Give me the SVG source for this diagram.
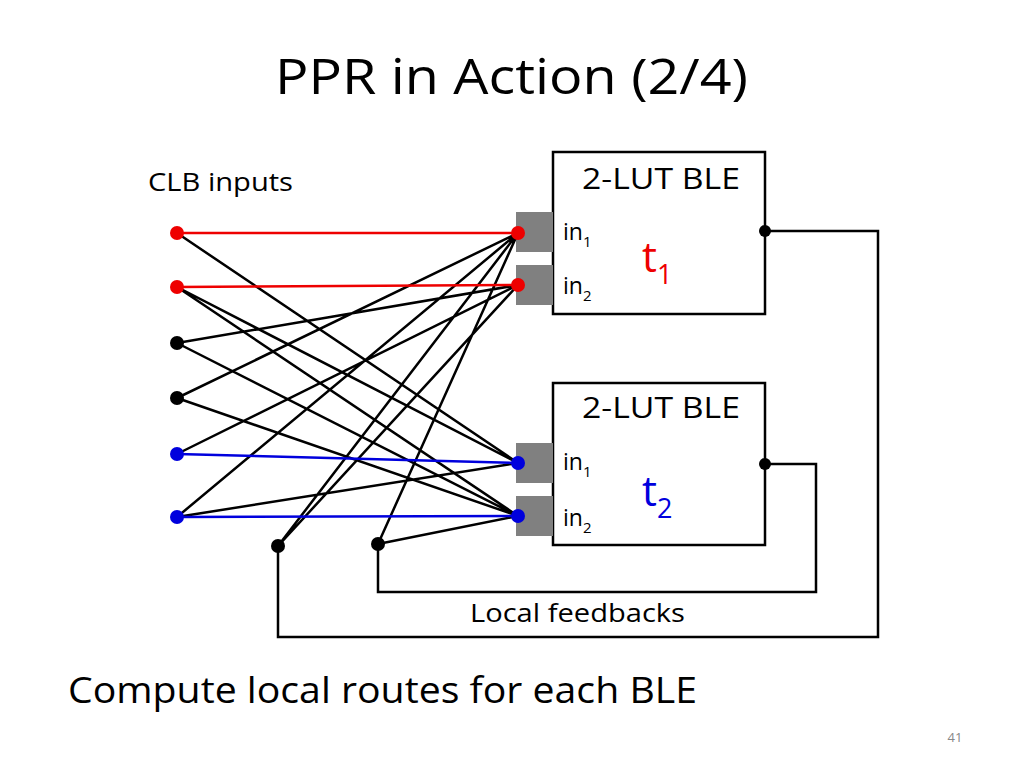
<svg xmlns="http://www.w3.org/2000/svg" width="1024" height="768" viewBox="0 0 1024 768">
<style>
text{font-family:"Open Sans","Liberation Sans",sans-serif;fill:#000}
.k{stroke:#000;stroke-width:2.5;fill:none}
.r{stroke:#e00;stroke-width:2.5}
.b{stroke:#00d;stroke-width:2.5}
.box{fill:#fff;stroke:#000;stroke-width:2.5}
.pin{fill:#808080}
</style>
<rect width="1024" height="768" fill="#fff"/>
<text x="275" y="94" font-size="50" textLength="473" lengthAdjust="spacingAndGlyphs">PPR in Action (2/4)</text>
<text x="148" y="191" font-size="25" textLength="145" lengthAdjust="spacingAndGlyphs">CLB inputs</text>
<g id="ble1">
<rect class="box" x="553" y="152" width="212" height="162"/>
<text x="582" y="189" font-size="29" textLength="158" lengthAdjust="spacingAndGlyphs">2-LUT BLE</text>
<rect class="pin" x="516" y="212" width="37" height="40"/>
<rect class="pin" x="516" y="265" width="37" height="40"/>
<text x="563" y="240" font-size="23">in<tspan font-size="15" dy="7">1</tspan></text>
<text x="563" y="294" font-size="23">in<tspan font-size="15" dy="7">2</tspan></text>
<text x="642" y="272" font-size="42" style="fill:#e00">t<tspan font-size="27" dy="12" style="fill:#e00">1</tspan></text>
</g>
<g id="ble2">
<rect class="box" x="553" y="383" width="212" height="162"/>
<text x="582" y="418" font-size="29" textLength="158" lengthAdjust="spacingAndGlyphs">2-LUT BLE</text>
<rect class="pin" x="516" y="443" width="37" height="40"/>
<rect class="pin" x="516" y="496" width="37" height="40"/>
<text x="563" y="470" font-size="23">in<tspan font-size="15" dy="7">1</tspan></text>
<text x="563" y="526" font-size="23">in<tspan font-size="15" dy="7">2</tspan></text>
<text x="642" y="506" font-size="42" style="fill:#00d">t<tspan font-size="27" dy="12" style="fill:#00d">2</tspan></text>
</g>
<g id="connectors">
<path class="k" d="M765 231H878V637H278V546M765 464H816V592H378V544"/>
<g class="k">
<path d="M177 233L518 463M177 287L518 463M177 287L518 516M177 343L518 285M177 343L518 516M177 398L518 233M177 398L518 516M177 454L518 285M177 517L518 233M177 517L518 463M278 546L518 233M278 546L518 285M378 544L518 233M378 544L518 516"/>
</g>
<line class="r" x1="177" y1="233" x2="518" y2="233"/>
<line class="r" x1="177" y1="287" x2="518" y2="285"/>
<line class="b" x1="177" y1="454" x2="518" y2="463"/>
<line class="b" x1="177" y1="517" x2="518" y2="516"/>
</g>
<g id="dots">
<circle cx="177" cy="233" r="7" fill="#e00"/><circle cx="177" cy="287" r="7" fill="#e00"/>
<circle cx="177" cy="343" r="7"/><circle cx="177" cy="398" r="7"/>
<circle cx="177" cy="454" r="7" fill="#00d"/><circle cx="177" cy="517" r="7" fill="#00d"/>
<circle cx="518" cy="233" r="7" fill="#e00"/><circle cx="518" cy="285" r="7" fill="#e00"/>
<circle cx="518" cy="463" r="7" fill="#00d"/><circle cx="518" cy="516" r="7" fill="#00d"/>
<circle cx="278" cy="546" r="7"/><circle cx="378" cy="544" r="7"/>
<circle cx="765" cy="231" r="6"/><circle cx="765" cy="464" r="6"/>
</g>
<text x="470" y="622" font-size="26" textLength="215" lengthAdjust="spacingAndGlyphs">Local feedbacks</text>
<text x="68" y="703" font-size="37" textLength="629" lengthAdjust="spacingAndGlyphs">Compute local routes for each BLE</text>
<text x="955" y="742" font-size="13" text-anchor="middle" style="fill:#888">41</text>
</svg>
